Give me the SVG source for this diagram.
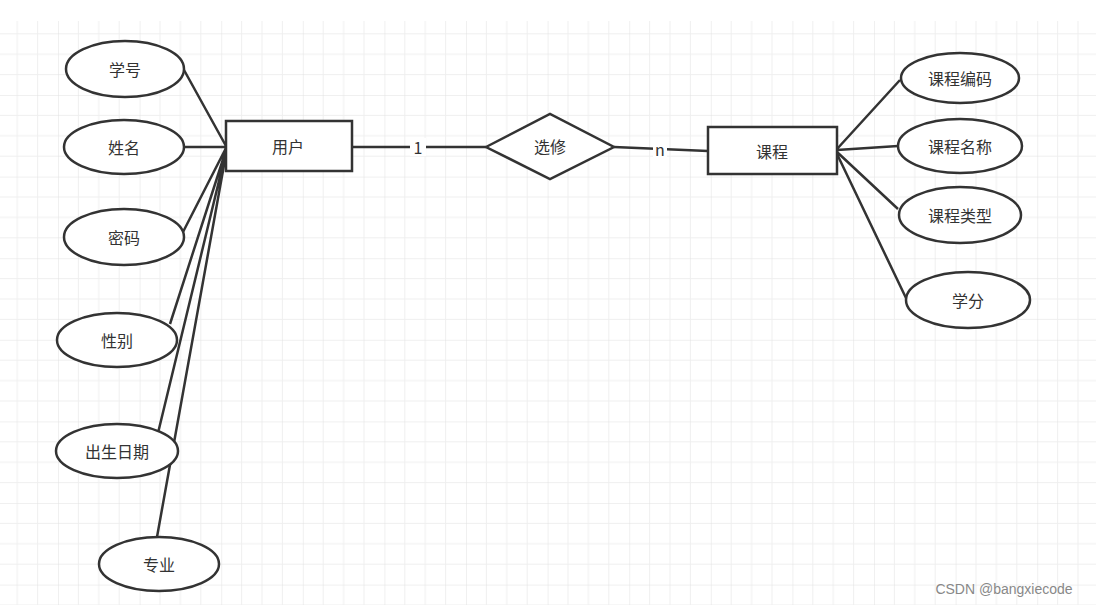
<svg xmlns="http://www.w3.org/2000/svg" width="1096" height="608" viewBox="0 0 1096 608">
<defs>
<pattern id="g" x="-23.6" y="13.4" width="81.6" height="81.6" patternUnits="userSpaceOnUse">
<path d="M20.4 0V81.6M40.8 0V81.6M61.2 0V81.6M0 20.4H81.6M0 40.8H81.6M0 61.2H81.6" stroke="#efefef" stroke-width="1"/>
<path d="M0 0V81.6M0 0H81.6" stroke="#e2e2e2" stroke-width="1"/>
</pattern>
<style>
.s{fill:#fff;stroke:#333;stroke-width:2.5}
.l{stroke:#333;stroke-width:2.5;fill:none}
text{font-family:"Noto Sans CJK SC","Liberation Sans",sans-serif;font-size:16px;fill:#333;text-anchor:middle;dominant-baseline:central}
</style>
</defs>
<rect width="1096" height="608" fill="#fff"/>
<rect x="0" y="21" width="1096" height="584" fill="url(#g)"/>
<g id="connectors">
<path class="l" d="M184 70L226 146M184 147H226M183 232L226 148M170 324L226 150M158 433L226 152M157 537L226 154"/>
<path class="l" d="M352 147H486M614 147L708 151"/>
<path class="l" d="M837 149L900 80M837 150L898 146M837 152L898 209M837 154L906 298"/>
<rect x="410" y="138" width="16" height="18" fill="#fff"/><text x="418" y="147">1</text>
<rect x="653" y="140" width="14" height="18" fill="#fff"/><text x="660" y="149">n</text>
</g>
<g id="user"><rect class="s" x="226" y="121" width="126" height="50"/><text x="288" y="146">用户</text></g>
<g id="xuanxiu"><polygon class="s" points="486,147 550,114 614,147 550,179"/><text x="550" y="146">选修</text></g>
<g id="course"><rect class="s" x="708" y="127" width="129" height="47"/><text x="772" y="151">课程</text></g>
<g id="a1"><ellipse class="s" cx="125" cy="69" rx="59" ry="28"/><text x="125" y="69">学号</text></g>
<g id="a2"><ellipse class="s" cx="124" cy="147" rx="60" ry="27"/><text x="124" y="147">姓名</text></g>
<g id="a3"><ellipse class="s" cx="124" cy="237" rx="60" ry="28"/><text x="124" y="237">密码</text></g>
<g id="a4"><ellipse class="s" cx="117" cy="340" rx="60" ry="27"/><text x="117" y="340">性别</text></g>
<g id="a5"><ellipse class="s" cx="117" cy="451" rx="61" ry="27"/><text x="117" y="451">出生日期</text></g>
<g id="a6"><ellipse class="s" cx="159" cy="564" rx="60" ry="27"/><text x="159" y="564">专业</text></g>
<g id="b1"><ellipse class="s" cx="960" cy="78" rx="59" ry="25"/><text x="960" y="78">课程编码</text></g>
<g id="b2"><ellipse class="s" cx="960" cy="146" rx="62" ry="27"/><text x="960" y="146">课程名称</text></g>
<g id="b3"><ellipse class="s" cx="960" cy="215" rx="61" ry="28"/><text x="960" y="215">课程类型</text></g>
<g id="b4"><ellipse class="s" cx="968" cy="300" rx="62" ry="28"/><text x="968" y="300">学分</text></g>
<text x="1004" y="589" style="font-family:'Liberation Sans',sans-serif;font-size:14px;fill:#888">CSDN @bangxiecode</text>
</svg>
